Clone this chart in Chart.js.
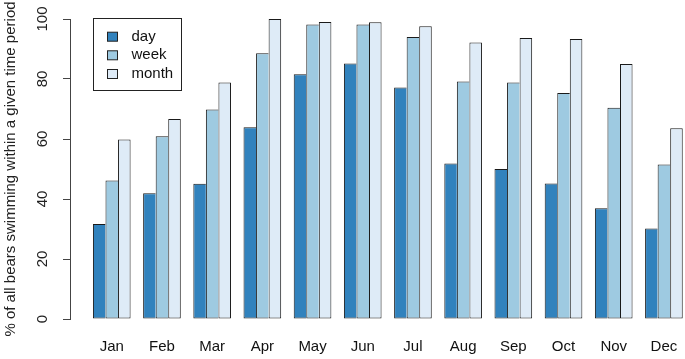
<!DOCTYPE html>
<html>
<head>
<meta charset="utf-8">
<script src="https://cdn.jsdelivr.net/npm/chart.js@4/dist/chart.umd.min.js"></script>
<style>
  html, body { margin: 0; padding: 0; background: #fff; overflow: hidden; }
  canvas { display: block; }
</style>
</head>
<body>
<canvas id="c" width="685" height="359"></canvas>
<script>
// ---- data ----
const months = ['Jan','Feb','Mar','Apr','May','Jun','Jul','Aug','Sep','Oct','Nov','Dec'];
const day    = [31.7, 41.9, 45.1, 63.9, 81.6, 85.2, 77.2, 51.8, 50.0, 45.2, 36.9, 30.2];
const week   = [46.2, 60.9, 69.8, 88.6, 98.2, 98.2, 94.0, 79.2, 78.8, 75.3, 70.4, 51.5];
const month  = [59.8, 66.7, 78.8, 100.0, 99.0, 98.9, 97.6, 92.2, 93.7, 93.3, 85.0, 63.6];
const yTicks = [0, 20, 40, 60, 80, 100];
const seriesNames = ['day', 'week', 'month'];
const yTitle = '% of all bears swimming within a given time period';

const FONT = "'Liberation Sans', Arial, Helvetica, sans-serif";
const colors = ['#3182BD', '#9ECAE1', '#DEEBF7'];
const edge = '#1a1a1a';

function toPoints(arr) { return arr.map((v, i) => ({ x: i, y: v })); }

const datasets = [day, week, month].map((arr, k) => ({
  label: seriesNames[k],
  data: toPoints(arr),
  backgroundColor: colors[k],
  borderColor: edge,
  borderWidth: k === 2 ? 1 : { top: 1, right: 0, bottom: 1, left: 1 },
  borderSkipped: false,
  categoryPercentage: 0.75,
  barPercentage: 1.0,
  clip: false
}));

const legendBox = {
  id: 'legendBox',
  afterDraw(chart) {
    const ctx = chart.ctx;
    ctx.save();
    ctx.strokeStyle = '#222';
    ctx.lineWidth = 1;
    ctx.strokeRect(93.5, 18.5, 88, 72);
    const rows = [36.7, 55.3, 74];
    chart.data.datasets.forEach((ds, i) => {
      ctx.fillStyle = ds.backgroundColor;
      ctx.fillRect(107, rows[i] - 4.5, 10, 9);
      ctx.strokeStyle = '#222';
      ctx.strokeRect(107.5, rows[i] - 4.5, 10, 9);
      ctx.fillStyle = '#111';
      ctx.font = '15px ' + FONT;
      ctx.textBaseline = 'middle';
      ctx.textAlign = 'left';
      ctx.fillText(ds.label, 131.5, rows[i]);
    });
    ctx.restore();
  }
};

new Chart(document.getElementById('c'), {
  type: 'bar',
  data: { datasets },
  options: {
    responsive: false,
    animation: false,
    devicePixelRatio: 1,
    layout: { padding: { top: 19, right: 0, bottom: 0, left: 0 } },
    plugins: { legend: { display: false }, tooltip: { enabled: false } },
    scales: {
      x: {
        type: 'linear',
        offset: false,
        bounds: 'data',
        min: -0.832,
        max: 11.42,
        afterBuildTicks: s => { s.ticks = months.map((m, i) => ({ value: i })); },
        afterFit: s => { s.height = 40; s.paddingLeft = 0; s.paddingRight = 0; },
        grid: { display: false, drawTicks: false, offset: false },
        border: { display: false },
        ticks: {
          callback: v => months[v],
          autoSkip: false, maxRotation: 0, minRotation: 0,
          padding: 19,
          color: '#111',
          font: { size: 15, family: FONT }
        }
      },
      y: {
        min: 0,
        max: 100,
        afterBuildTicks: s => { s.ticks = yTicks.map(v => ({ value: v })); },
        afterFit: s => { s.width = 70; s.paddingTop = 0; s.paddingBottom = 0; },
        border: { display: true, color: '#444', width: 1 },
        grid: { drawOnChartArea: false, drawTicks: true, tickLength: 7, color: '#444' },
        ticks: {
          minRotation: 90, maxRotation: 90,
          crossAlign: 'center',
          padding: 8,
          color: '#222',
          font: { size: 15, family: FONT }
        },
        title: {
          display: true,
          text: yTitle,
          color: '#222',
          font: { size: 15, family: FONT },
          padding: { top: 2, bottom: 0 }
        }
      }
    }
  },
  plugins: [legendBox]
});
</script>
</body>
</html>
